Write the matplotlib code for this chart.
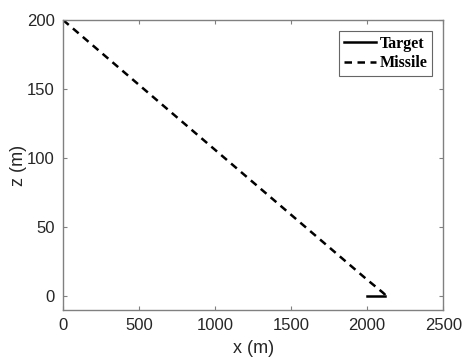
import numpy as np
import matplotlib
matplotlib.use('Agg')
import matplotlib.pyplot as plt

# Trajectory data
target_x = [2000, 2060, 2120]
target_z = [0, 0, 0]

missile_x = [0, 500, 1000, 1500, 2000, 2100, 2115, 2120]
missile_z = [200, 153, 106, 59, 12, 3, 1.5, 0]

plt.rcParams['font.family'] = ['Liberation Sans', 'DejaVu Sans']

fig = plt.figure(figsize=(4.74, 3.64), dpi=100)
ax = fig.add_axes([0.133, 0.148, 0.802, 0.797])

ax.plot(target_x, target_z, color='black', linewidth=1.8, label='Target')
ax.plot(missile_x, missile_z, color='black', linewidth=1.8, linestyle=(0, (3, 2.2)), label='Missile')

ax.set_xlim(0, 2500)
ax.set_ylim(-10, 200)
ax.set_xticks([0, 500, 1000, 1500, 2000, 2500])
ax.set_yticks([0, 50, 100, 150, 200])
ax.set_xlabel('x (m)', fontsize=13, color='#262626', labelpad=5)
ax.set_ylabel('z (m)', fontsize=13, color='#262626', labelpad=0)

for s in ax.spines.values():
    s.set_color('#808080')
    s.set_linewidth(1.0)
ax.tick_params(direction='in', length=3, colors='#808080', labelcolor='#262626',
               labelsize=12, top=True, right=True, pad=6)

leg = ax.legend(loc='upper right', prop={'family': 'Liberation Serif', 'weight': 'bold', 'size': 11.5},
                frameon=True, fancybox=False, edgecolor='#404040', handlelength=2.0,
                handletextpad=0.2, borderpad=0.3, labelspacing=0.2, borderaxespad=0.7)
leg.get_frame().set_linewidth(0.8)

fig.savefig('out.png', dpi=100)
